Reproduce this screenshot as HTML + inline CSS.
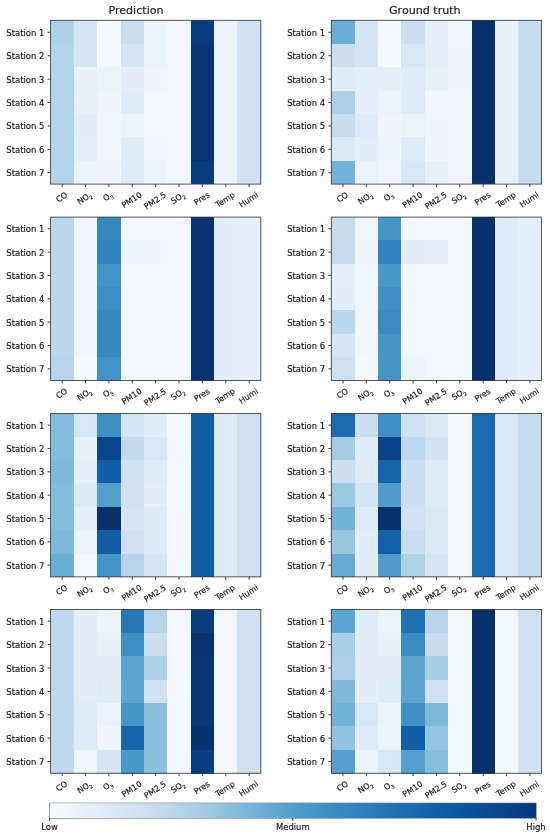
<!DOCTYPE html>
<html><head><meta charset="utf-8"><title>Prediction vs Ground truth</title>
<style>html,body{margin:0;padding:0;background:#fff}svg{display:block}</style></head>
<body>
<svg width="550" height="836" viewBox="0 0 550 836" font-family="'DejaVu Sans', 'Liberation Sans', sans-serif" fill="#141414" stroke="#141414" stroke-width="0.15" paint-order="stroke">
<rect width="550" height="836" fill="#fff" stroke="none"/>
<text x="136.0" y="13.6" font-size="11.10" text-anchor="middle">Prediction</text>
<text x="424.8" y="13.6" font-size="11.10" text-anchor="middle">Ground truth</text>
<g shape-rendering="crispEdges" stroke="none">
<rect x="50.50" y="20.30" width="23.67" height="23.70" fill="#add0e6"/>
<rect x="73.87" y="20.30" width="23.67" height="23.70" fill="#d6e5f4"/>
<rect x="97.23" y="20.30" width="23.67" height="23.70" fill="#f3f8fe"/>
<rect x="120.60" y="20.30" width="23.67" height="23.70" fill="#ccdff1"/>
<rect x="143.97" y="20.30" width="23.67" height="23.70" fill="#ebf3fb"/>
<rect x="167.33" y="20.30" width="23.67" height="23.70" fill="#f2f7fd"/>
<rect x="190.70" y="20.30" width="23.67" height="23.70" fill="#083b7c"/>
<rect x="214.07" y="20.30" width="23.67" height="23.70" fill="#ebf3fb"/>
<rect x="237.43" y="20.30" width="23.67" height="23.70" fill="#d0e1f2"/>
<rect x="50.50" y="43.70" width="23.67" height="23.70" fill="#b3d3e8"/>
<rect x="73.87" y="43.70" width="23.67" height="23.70" fill="#d6e5f4"/>
<rect x="97.23" y="43.70" width="23.67" height="23.70" fill="#f3f8fe"/>
<rect x="120.60" y="43.70" width="23.67" height="23.70" fill="#d6e5f4"/>
<rect x="143.97" y="43.70" width="23.67" height="23.70" fill="#ebf3fb"/>
<rect x="167.33" y="43.70" width="23.67" height="23.70" fill="#f2f7fd"/>
<rect x="190.70" y="43.70" width="23.67" height="23.70" fill="#083674"/>
<rect x="214.07" y="43.70" width="23.67" height="23.70" fill="#ebf3fb"/>
<rect x="237.43" y="43.70" width="23.67" height="23.70" fill="#d0e1f2"/>
<rect x="50.50" y="67.10" width="23.67" height="23.70" fill="#b3d3e8"/>
<rect x="73.87" y="67.10" width="23.67" height="23.70" fill="#e7f1fa"/>
<rect x="97.23" y="67.10" width="23.67" height="23.70" fill="#ebf3fb"/>
<rect x="120.60" y="67.10" width="23.67" height="23.70" fill="#e3eef9"/>
<rect x="143.97" y="67.10" width="23.67" height="23.70" fill="#eef5fc"/>
<rect x="167.33" y="67.10" width="23.67" height="23.70" fill="#f2f7fd"/>
<rect x="190.70" y="67.10" width="23.67" height="23.70" fill="#083573"/>
<rect x="214.07" y="67.10" width="23.67" height="23.70" fill="#ebf3fb"/>
<rect x="237.43" y="67.10" width="23.67" height="23.70" fill="#d0e1f2"/>
<rect x="50.50" y="90.50" width="23.67" height="23.70" fill="#b3d3e8"/>
<rect x="73.87" y="90.50" width="23.67" height="23.70" fill="#e7f1fa"/>
<rect x="97.23" y="90.50" width="23.67" height="23.70" fill="#eef5fc"/>
<rect x="120.60" y="90.50" width="23.67" height="23.70" fill="#dfecf7"/>
<rect x="143.97" y="90.50" width="23.67" height="23.70" fill="#f2f7fd"/>
<rect x="167.33" y="90.50" width="23.67" height="23.70" fill="#f2f7fd"/>
<rect x="190.70" y="90.50" width="23.67" height="23.70" fill="#083573"/>
<rect x="214.07" y="90.50" width="23.67" height="23.70" fill="#ebf3fb"/>
<rect x="237.43" y="90.50" width="23.67" height="23.70" fill="#d0e1f2"/>
<rect x="50.50" y="113.90" width="23.67" height="23.70" fill="#b3d3e8"/>
<rect x="73.87" y="113.90" width="23.67" height="23.70" fill="#e3eef9"/>
<rect x="97.23" y="113.90" width="23.67" height="23.70" fill="#eff6fc"/>
<rect x="120.60" y="113.90" width="23.67" height="23.70" fill="#ebf3fb"/>
<rect x="143.97" y="113.90" width="23.67" height="23.70" fill="#f2f7fd"/>
<rect x="167.33" y="113.90" width="23.67" height="23.70" fill="#f2f7fd"/>
<rect x="190.70" y="113.90" width="23.67" height="23.70" fill="#083573"/>
<rect x="214.07" y="113.90" width="23.67" height="23.70" fill="#ebf3fb"/>
<rect x="237.43" y="113.90" width="23.67" height="23.70" fill="#d0e1f2"/>
<rect x="50.50" y="137.30" width="23.67" height="23.70" fill="#b3d3e8"/>
<rect x="73.87" y="137.30" width="23.67" height="23.70" fill="#e5eff9"/>
<rect x="97.23" y="137.30" width="23.67" height="23.70" fill="#eff6fc"/>
<rect x="120.60" y="137.30" width="23.67" height="23.70" fill="#e1edf8"/>
<rect x="143.97" y="137.30" width="23.67" height="23.70" fill="#eff6fc"/>
<rect x="167.33" y="137.30" width="23.67" height="23.70" fill="#f2f7fd"/>
<rect x="190.70" y="137.30" width="23.67" height="23.70" fill="#083573"/>
<rect x="214.07" y="137.30" width="23.67" height="23.70" fill="#ebf3fb"/>
<rect x="237.43" y="137.30" width="23.67" height="23.70" fill="#d0e1f2"/>
<rect x="50.50" y="160.70" width="23.67" height="23.70" fill="#b3d3e8"/>
<rect x="73.87" y="160.70" width="23.67" height="23.70" fill="#ebf3fb"/>
<rect x="97.23" y="160.70" width="23.67" height="23.70" fill="#eef5fc"/>
<rect x="120.60" y="160.70" width="23.67" height="23.70" fill="#dfecf7"/>
<rect x="143.97" y="160.70" width="23.67" height="23.70" fill="#ebf3fb"/>
<rect x="167.33" y="160.70" width="23.67" height="23.70" fill="#f2f7fd"/>
<rect x="190.70" y="160.70" width="23.67" height="23.70" fill="#083c7d"/>
<rect x="214.07" y="160.70" width="23.67" height="23.70" fill="#ebf3fb"/>
<rect x="237.43" y="160.70" width="23.67" height="23.70" fill="#d0e1f2"/>
</g>
<rect x="50.50" y="20.30" width="210.30" height="163.80" fill="none" stroke="#363b41" stroke-width="0.85"/>
<path d="M50.50 32.30h-2.9M50.50 55.70h-2.9M50.50 79.10h-2.9M50.50 102.50h-2.9M50.50 125.90h-2.9M50.50 149.30h-2.9M50.50 172.70h-2.9M62.18 184.10v2.9M85.55 184.10v2.9M108.92 184.10v2.9M132.28 184.10v2.9M155.65 184.10v2.9M179.02 184.10v2.9M202.38 184.10v2.9M225.75 184.10v2.9M249.12 184.10v2.9" stroke="#24282c" stroke-width="0.9" fill="none"/>
<text x="44.40" y="35.75" font-size="8.45" text-anchor="end">Station 1</text>
<text x="44.40" y="59.15" font-size="8.45" text-anchor="end">Station 2</text>
<text x="44.40" y="82.55" font-size="8.45" text-anchor="end">Station 3</text>
<text x="44.40" y="105.95" font-size="8.45" text-anchor="end">Station 4</text>
<text x="44.40" y="129.35" font-size="8.45" text-anchor="end">Station 5</text>
<text x="44.40" y="152.75" font-size="8.45" text-anchor="end">Station 6</text>
<text x="44.40" y="176.15" font-size="8.45" text-anchor="end">Station 7</text>
<text transform="translate(61.58 197.08) rotate(-33)" x="-5.94" y="2.80" font-size="8.00">CO</text>
<text transform="translate(84.95 198.96) rotate(-33)" x="-7.77" y="1.75" font-size="8.00">NO<tspan font-size="5.12" dy="2.1">2</tspan></text>
<text transform="translate(108.32 197.33) rotate(-33)" x="-4.78" y="1.75" font-size="8.00">O<tspan font-size="5.12" dy="2.1">3</tspan></text>
<text transform="translate(131.68 199.81) rotate(-33)" x="-10.95" y="2.80" font-size="8.00">PM10</text>
<text transform="translate(155.05 200.51) rotate(-33)" x="-12.22" y="2.80" font-size="8.00">PM2.5</text>
<text transform="translate(178.42 198.71) rotate(-33)" x="-7.32" y="1.75" font-size="8.00">SO<tspan font-size="5.12" dy="2.1">2</tspan></text>
<text transform="translate(201.78 198.45) rotate(-33)" x="-8.44" y="2.80" font-size="8.00">Pres</text>
<text transform="translate(225.15 199.65) rotate(-33)" x="-10.66" y="2.80" font-size="8.00">Temp</text>
<text transform="translate(248.52 199.59) rotate(-33)" x="-10.55" y="2.80" font-size="8.00">Humi</text>
<g shape-rendering="crispEdges" stroke="none">
<rect x="331.30" y="20.30" width="23.67" height="23.70" fill="#6aaed6"/>
<rect x="354.67" y="20.30" width="23.67" height="23.70" fill="#d6e5f4"/>
<rect x="378.03" y="20.30" width="23.67" height="23.70" fill="#f5fafe"/>
<rect x="401.40" y="20.30" width="23.67" height="23.70" fill="#ccdff1"/>
<rect x="424.77" y="20.30" width="23.67" height="23.70" fill="#e5eff9"/>
<rect x="448.13" y="20.30" width="23.67" height="23.70" fill="#eff6fc"/>
<rect x="471.50" y="20.30" width="23.67" height="23.70" fill="#08306b"/>
<rect x="494.87" y="20.30" width="23.67" height="23.70" fill="#e7f1fa"/>
<rect x="518.23" y="20.30" width="23.67" height="23.70" fill="#c8dcf0"/>
<rect x="331.30" y="43.70" width="23.67" height="23.70" fill="#ccdff1"/>
<rect x="354.67" y="43.70" width="23.67" height="23.70" fill="#d3e4f3"/>
<rect x="378.03" y="43.70" width="23.67" height="23.70" fill="#f5fafe"/>
<rect x="401.40" y="43.70" width="23.67" height="23.70" fill="#d8e7f5"/>
<rect x="424.77" y="43.70" width="23.67" height="23.70" fill="#e5eff9"/>
<rect x="448.13" y="43.70" width="23.67" height="23.70" fill="#eef5fc"/>
<rect x="471.50" y="43.70" width="23.67" height="23.70" fill="#08306b"/>
<rect x="494.87" y="43.70" width="23.67" height="23.70" fill="#e7f1fa"/>
<rect x="518.23" y="43.70" width="23.67" height="23.70" fill="#c8dcf0"/>
<rect x="331.30" y="67.10" width="23.67" height="23.70" fill="#e1edf8"/>
<rect x="354.67" y="67.10" width="23.67" height="23.70" fill="#e5eff9"/>
<rect x="378.03" y="67.10" width="23.67" height="23.70" fill="#e5eff9"/>
<rect x="401.40" y="67.10" width="23.67" height="23.70" fill="#dfecf7"/>
<rect x="424.77" y="67.10" width="23.67" height="23.70" fill="#e7f1fa"/>
<rect x="448.13" y="67.10" width="23.67" height="23.70" fill="#eef5fc"/>
<rect x="471.50" y="67.10" width="23.67" height="23.70" fill="#08306b"/>
<rect x="494.87" y="67.10" width="23.67" height="23.70" fill="#e7f1fa"/>
<rect x="518.23" y="67.10" width="23.67" height="23.70" fill="#c8dcf0"/>
<rect x="331.30" y="90.50" width="23.67" height="23.70" fill="#add0e6"/>
<rect x="354.67" y="90.50" width="23.67" height="23.70" fill="#e5eff9"/>
<rect x="378.03" y="90.50" width="23.67" height="23.70" fill="#ebf3fb"/>
<rect x="401.40" y="90.50" width="23.67" height="23.70" fill="#dfecf7"/>
<rect x="424.77" y="90.50" width="23.67" height="23.70" fill="#eff6fc"/>
<rect x="448.13" y="90.50" width="23.67" height="23.70" fill="#eff6fc"/>
<rect x="471.50" y="90.50" width="23.67" height="23.70" fill="#08306b"/>
<rect x="494.87" y="90.50" width="23.67" height="23.70" fill="#e7f1fa"/>
<rect x="518.23" y="90.50" width="23.67" height="23.70" fill="#c8dcf0"/>
<rect x="331.30" y="113.90" width="23.67" height="23.70" fill="#c8dcf0"/>
<rect x="354.67" y="113.90" width="23.67" height="23.70" fill="#ddeaf7"/>
<rect x="378.03" y="113.90" width="23.67" height="23.70" fill="#eef5fc"/>
<rect x="401.40" y="113.90" width="23.67" height="23.70" fill="#eaf2fb"/>
<rect x="424.77" y="113.90" width="23.67" height="23.70" fill="#eef5fc"/>
<rect x="448.13" y="113.90" width="23.67" height="23.70" fill="#eff6fc"/>
<rect x="471.50" y="113.90" width="23.67" height="23.70" fill="#08306b"/>
<rect x="494.87" y="113.90" width="23.67" height="23.70" fill="#e7f1fa"/>
<rect x="518.23" y="113.90" width="23.67" height="23.70" fill="#c8dcf0"/>
<rect x="331.30" y="137.30" width="23.67" height="23.70" fill="#d9e8f5"/>
<rect x="354.67" y="137.30" width="23.67" height="23.70" fill="#e3eef9"/>
<rect x="378.03" y="137.30" width="23.67" height="23.70" fill="#ebf3fb"/>
<rect x="401.40" y="137.30" width="23.67" height="23.70" fill="#ddeaf7"/>
<rect x="424.77" y="137.30" width="23.67" height="23.70" fill="#eef5fc"/>
<rect x="448.13" y="137.30" width="23.67" height="23.70" fill="#eff6fc"/>
<rect x="471.50" y="137.30" width="23.67" height="23.70" fill="#08306b"/>
<rect x="494.87" y="137.30" width="23.67" height="23.70" fill="#e7f1fa"/>
<rect x="518.23" y="137.30" width="23.67" height="23.70" fill="#c8dcf0"/>
<rect x="331.30" y="160.70" width="23.67" height="23.70" fill="#74b3d8"/>
<rect x="354.67" y="160.70" width="23.67" height="23.70" fill="#eaf2fb"/>
<rect x="378.03" y="160.70" width="23.67" height="23.70" fill="#eff6fc"/>
<rect x="401.40" y="160.70" width="23.67" height="23.70" fill="#d8e7f5"/>
<rect x="424.77" y="160.70" width="23.67" height="23.70" fill="#e7f1fa"/>
<rect x="448.13" y="160.70" width="23.67" height="23.70" fill="#eff6fc"/>
<rect x="471.50" y="160.70" width="23.67" height="23.70" fill="#08306b"/>
<rect x="494.87" y="160.70" width="23.67" height="23.70" fill="#e7f1fa"/>
<rect x="518.23" y="160.70" width="23.67" height="23.70" fill="#c8dcf0"/>
</g>
<rect x="331.30" y="20.30" width="210.30" height="163.80" fill="none" stroke="#363b41" stroke-width="0.85"/>
<path d="M331.30 32.30h-2.9M331.30 55.70h-2.9M331.30 79.10h-2.9M331.30 102.50h-2.9M331.30 125.90h-2.9M331.30 149.30h-2.9M331.30 172.70h-2.9M342.98 184.10v2.9M366.35 184.10v2.9M389.72 184.10v2.9M413.08 184.10v2.9M436.45 184.10v2.9M459.82 184.10v2.9M483.18 184.10v2.9M506.55 184.10v2.9M529.92 184.10v2.9" stroke="#24282c" stroke-width="0.9" fill="none"/>
<text x="325.20" y="35.75" font-size="8.45" text-anchor="end">Station 1</text>
<text x="325.20" y="59.15" font-size="8.45" text-anchor="end">Station 2</text>
<text x="325.20" y="82.55" font-size="8.45" text-anchor="end">Station 3</text>
<text x="325.20" y="105.95" font-size="8.45" text-anchor="end">Station 4</text>
<text x="325.20" y="129.35" font-size="8.45" text-anchor="end">Station 5</text>
<text x="325.20" y="152.75" font-size="8.45" text-anchor="end">Station 6</text>
<text x="325.20" y="176.15" font-size="8.45" text-anchor="end">Station 7</text>
<text transform="translate(342.38 197.08) rotate(-33)" x="-5.94" y="2.80" font-size="8.00">CO</text>
<text transform="translate(365.75 198.96) rotate(-33)" x="-7.77" y="1.75" font-size="8.00">NO<tspan font-size="5.12" dy="2.1">2</tspan></text>
<text transform="translate(389.12 197.33) rotate(-33)" x="-4.78" y="1.75" font-size="8.00">O<tspan font-size="5.12" dy="2.1">3</tspan></text>
<text transform="translate(412.48 199.81) rotate(-33)" x="-10.95" y="2.80" font-size="8.00">PM10</text>
<text transform="translate(435.85 200.51) rotate(-33)" x="-12.22" y="2.80" font-size="8.00">PM2.5</text>
<text transform="translate(459.22 198.71) rotate(-33)" x="-7.32" y="1.75" font-size="8.00">SO<tspan font-size="5.12" dy="2.1">2</tspan></text>
<text transform="translate(482.58 198.45) rotate(-33)" x="-8.44" y="2.80" font-size="8.00">Pres</text>
<text transform="translate(505.95 199.65) rotate(-33)" x="-10.66" y="2.80" font-size="8.00">Temp</text>
<text transform="translate(529.32 199.59) rotate(-33)" x="-10.55" y="2.80" font-size="8.00">Humi</text>
<g shape-rendering="crispEdges" stroke="none">
<rect x="50.50" y="217.10" width="23.67" height="23.64" fill="#bdd7ec"/>
<rect x="73.87" y="217.10" width="23.67" height="23.64" fill="#eff6fc"/>
<rect x="97.23" y="217.10" width="23.67" height="23.64" fill="#3989c1"/>
<rect x="120.60" y="217.10" width="23.67" height="23.64" fill="#f2f7fd"/>
<rect x="143.97" y="217.10" width="23.67" height="23.64" fill="#f2f7fd"/>
<rect x="167.33" y="217.10" width="23.67" height="23.64" fill="#f2f7fd"/>
<rect x="190.70" y="217.10" width="23.67" height="23.64" fill="#083370"/>
<rect x="214.07" y="217.10" width="23.67" height="23.64" fill="#e3eef9"/>
<rect x="237.43" y="217.10" width="23.67" height="23.64" fill="#e5eff9"/>
<rect x="50.50" y="240.44" width="23.67" height="23.64" fill="#bdd7ec"/>
<rect x="73.87" y="240.44" width="23.67" height="23.64" fill="#eff6fc"/>
<rect x="97.23" y="240.44" width="23.67" height="23.64" fill="#3383be"/>
<rect x="120.60" y="240.44" width="23.67" height="23.64" fill="#ecf4fb"/>
<rect x="143.97" y="240.44" width="23.67" height="23.64" fill="#eef5fc"/>
<rect x="167.33" y="240.44" width="23.67" height="23.64" fill="#f2f7fd"/>
<rect x="190.70" y="240.44" width="23.67" height="23.64" fill="#083370"/>
<rect x="214.07" y="240.44" width="23.67" height="23.64" fill="#e3eef9"/>
<rect x="237.43" y="240.44" width="23.67" height="23.64" fill="#e5eff9"/>
<rect x="50.50" y="263.79" width="23.67" height="23.64" fill="#bdd7ec"/>
<rect x="73.87" y="263.79" width="23.67" height="23.64" fill="#eff6fc"/>
<rect x="97.23" y="263.79" width="23.67" height="23.64" fill="#4493c7"/>
<rect x="120.60" y="263.79" width="23.67" height="23.64" fill="#f2f7fd"/>
<rect x="143.97" y="263.79" width="23.67" height="23.64" fill="#f2f7fd"/>
<rect x="167.33" y="263.79" width="23.67" height="23.64" fill="#f2f7fd"/>
<rect x="190.70" y="263.79" width="23.67" height="23.64" fill="#083370"/>
<rect x="214.07" y="263.79" width="23.67" height="23.64" fill="#e3eef9"/>
<rect x="237.43" y="263.79" width="23.67" height="23.64" fill="#e5eff9"/>
<rect x="50.50" y="287.13" width="23.67" height="23.64" fill="#bdd7ec"/>
<rect x="73.87" y="287.13" width="23.67" height="23.64" fill="#eff6fc"/>
<rect x="97.23" y="287.13" width="23.67" height="23.64" fill="#3e8ec4"/>
<rect x="120.60" y="287.13" width="23.67" height="23.64" fill="#f2f7fd"/>
<rect x="143.97" y="287.13" width="23.67" height="23.64" fill="#f2f7fd"/>
<rect x="167.33" y="287.13" width="23.67" height="23.64" fill="#f2f7fd"/>
<rect x="190.70" y="287.13" width="23.67" height="23.64" fill="#083370"/>
<rect x="214.07" y="287.13" width="23.67" height="23.64" fill="#e3eef9"/>
<rect x="237.43" y="287.13" width="23.67" height="23.64" fill="#e5eff9"/>
<rect x="50.50" y="310.47" width="23.67" height="23.64" fill="#bdd7ec"/>
<rect x="73.87" y="310.47" width="23.67" height="23.64" fill="#eff6fc"/>
<rect x="97.23" y="310.47" width="23.67" height="23.64" fill="#3989c1"/>
<rect x="120.60" y="310.47" width="23.67" height="23.64" fill="#f2f7fd"/>
<rect x="143.97" y="310.47" width="23.67" height="23.64" fill="#f2f7fd"/>
<rect x="167.33" y="310.47" width="23.67" height="23.64" fill="#f2f7fd"/>
<rect x="190.70" y="310.47" width="23.67" height="23.64" fill="#083370"/>
<rect x="214.07" y="310.47" width="23.67" height="23.64" fill="#e3eef9"/>
<rect x="237.43" y="310.47" width="23.67" height="23.64" fill="#e5eff9"/>
<rect x="50.50" y="333.81" width="23.67" height="23.64" fill="#bdd7ec"/>
<rect x="73.87" y="333.81" width="23.67" height="23.64" fill="#eff6fc"/>
<rect x="97.23" y="333.81" width="23.67" height="23.64" fill="#3989c1"/>
<rect x="120.60" y="333.81" width="23.67" height="23.64" fill="#f2f7fd"/>
<rect x="143.97" y="333.81" width="23.67" height="23.64" fill="#f2f7fd"/>
<rect x="167.33" y="333.81" width="23.67" height="23.64" fill="#f2f7fd"/>
<rect x="190.70" y="333.81" width="23.67" height="23.64" fill="#083370"/>
<rect x="214.07" y="333.81" width="23.67" height="23.64" fill="#e3eef9"/>
<rect x="237.43" y="333.81" width="23.67" height="23.64" fill="#e5eff9"/>
<rect x="50.50" y="357.16" width="23.67" height="23.64" fill="#b7d4ea"/>
<rect x="73.87" y="357.16" width="23.67" height="23.64" fill="#f5fafe"/>
<rect x="97.23" y="357.16" width="23.67" height="23.64" fill="#4493c7"/>
<rect x="120.60" y="357.16" width="23.67" height="23.64" fill="#f2f7fd"/>
<rect x="143.97" y="357.16" width="23.67" height="23.64" fill="#f2f7fd"/>
<rect x="167.33" y="357.16" width="23.67" height="23.64" fill="#f2f7fd"/>
<rect x="190.70" y="357.16" width="23.67" height="23.64" fill="#083370"/>
<rect x="214.07" y="357.16" width="23.67" height="23.64" fill="#e3eef9"/>
<rect x="237.43" y="357.16" width="23.67" height="23.64" fill="#e5eff9"/>
</g>
<rect x="50.50" y="217.10" width="210.30" height="163.40" fill="none" stroke="#363b41" stroke-width="0.85"/>
<path d="M50.50 228.77h-2.9M50.50 252.11h-2.9M50.50 275.46h-2.9M50.50 298.80h-2.9M50.50 322.14h-2.9M50.50 345.49h-2.9M50.50 368.83h-2.9M62.18 380.50v2.9M85.55 380.50v2.9M108.92 380.50v2.9M132.28 380.50v2.9M155.65 380.50v2.9M179.02 380.50v2.9M202.38 380.50v2.9M225.75 380.50v2.9M249.12 380.50v2.9" stroke="#24282c" stroke-width="0.9" fill="none"/>
<text x="44.40" y="232.37" font-size="8.45" text-anchor="end">Station 1</text>
<text x="44.40" y="255.71" font-size="8.45" text-anchor="end">Station 2</text>
<text x="44.40" y="279.06" font-size="8.45" text-anchor="end">Station 3</text>
<text x="44.40" y="302.40" font-size="8.45" text-anchor="end">Station 4</text>
<text x="44.40" y="325.74" font-size="8.45" text-anchor="end">Station 5</text>
<text x="44.40" y="349.09" font-size="8.45" text-anchor="end">Station 6</text>
<text x="44.40" y="372.43" font-size="8.45" text-anchor="end">Station 7</text>
<text transform="translate(61.58 393.48) rotate(-33)" x="-5.94" y="2.80" font-size="8.00">CO</text>
<text transform="translate(84.95 395.36) rotate(-33)" x="-7.77" y="1.75" font-size="8.00">NO<tspan font-size="5.12" dy="2.1">2</tspan></text>
<text transform="translate(108.32 393.73) rotate(-33)" x="-4.78" y="1.75" font-size="8.00">O<tspan font-size="5.12" dy="2.1">3</tspan></text>
<text transform="translate(131.68 396.21) rotate(-33)" x="-10.95" y="2.80" font-size="8.00">PM10</text>
<text transform="translate(155.05 396.91) rotate(-33)" x="-12.22" y="2.80" font-size="8.00">PM2.5</text>
<text transform="translate(178.42 395.11) rotate(-33)" x="-7.32" y="1.75" font-size="8.00">SO<tspan font-size="5.12" dy="2.1">2</tspan></text>
<text transform="translate(201.78 394.85) rotate(-33)" x="-8.44" y="2.80" font-size="8.00">Pres</text>
<text transform="translate(225.15 396.05) rotate(-33)" x="-10.66" y="2.80" font-size="8.00">Temp</text>
<text transform="translate(248.52 395.99) rotate(-33)" x="-10.55" y="2.80" font-size="8.00">Humi</text>
<g shape-rendering="crispEdges" stroke="none">
<rect x="331.30" y="217.10" width="23.67" height="23.64" fill="#c8dcf0"/>
<rect x="354.67" y="217.10" width="23.67" height="23.64" fill="#eff6fc"/>
<rect x="378.03" y="217.10" width="23.67" height="23.64" fill="#4695c8"/>
<rect x="401.40" y="217.10" width="23.67" height="23.64" fill="#f2f7fd"/>
<rect x="424.77" y="217.10" width="23.67" height="23.64" fill="#f2f7fd"/>
<rect x="448.13" y="217.10" width="23.67" height="23.64" fill="#f2f8fd"/>
<rect x="471.50" y="217.10" width="23.67" height="23.64" fill="#08306b"/>
<rect x="494.87" y="217.10" width="23.67" height="23.64" fill="#dfecf7"/>
<rect x="518.23" y="217.10" width="23.67" height="23.64" fill="#e5eff9"/>
<rect x="331.30" y="240.44" width="23.67" height="23.64" fill="#c6dbef"/>
<rect x="354.67" y="240.44" width="23.67" height="23.64" fill="#eef5fc"/>
<rect x="378.03" y="240.44" width="23.67" height="23.64" fill="#3383be"/>
<rect x="401.40" y="240.44" width="23.67" height="23.64" fill="#e3eef9"/>
<rect x="424.77" y="240.44" width="23.67" height="23.64" fill="#e5eff9"/>
<rect x="448.13" y="240.44" width="23.67" height="23.64" fill="#f2f8fd"/>
<rect x="471.50" y="240.44" width="23.67" height="23.64" fill="#08306b"/>
<rect x="494.87" y="240.44" width="23.67" height="23.64" fill="#dfecf7"/>
<rect x="518.23" y="240.44" width="23.67" height="23.64" fill="#e5eff9"/>
<rect x="331.30" y="263.79" width="23.67" height="23.64" fill="#e5eff9"/>
<rect x="354.67" y="263.79" width="23.67" height="23.64" fill="#eff6fc"/>
<rect x="378.03" y="263.79" width="23.67" height="23.64" fill="#4a98c9"/>
<rect x="401.40" y="263.79" width="23.67" height="23.64" fill="#f2f7fd"/>
<rect x="424.77" y="263.79" width="23.67" height="23.64" fill="#f2f7fd"/>
<rect x="448.13" y="263.79" width="23.67" height="23.64" fill="#f2f8fd"/>
<rect x="471.50" y="263.79" width="23.67" height="23.64" fill="#08306b"/>
<rect x="494.87" y="263.79" width="23.67" height="23.64" fill="#dfecf7"/>
<rect x="518.23" y="263.79" width="23.67" height="23.64" fill="#e5eff9"/>
<rect x="331.30" y="287.13" width="23.67" height="23.64" fill="#e3eef9"/>
<rect x="354.67" y="287.13" width="23.67" height="23.64" fill="#eff6fc"/>
<rect x="378.03" y="287.13" width="23.67" height="23.64" fill="#4090c5"/>
<rect x="401.40" y="287.13" width="23.67" height="23.64" fill="#f2f7fd"/>
<rect x="424.77" y="287.13" width="23.67" height="23.64" fill="#f2f7fd"/>
<rect x="448.13" y="287.13" width="23.67" height="23.64" fill="#f2f8fd"/>
<rect x="471.50" y="287.13" width="23.67" height="23.64" fill="#08306b"/>
<rect x="494.87" y="287.13" width="23.67" height="23.64" fill="#dfecf7"/>
<rect x="518.23" y="287.13" width="23.67" height="23.64" fill="#e5eff9"/>
<rect x="331.30" y="310.47" width="23.67" height="23.64" fill="#bdd7ec"/>
<rect x="354.67" y="310.47" width="23.67" height="23.64" fill="#eff6fc"/>
<rect x="378.03" y="310.47" width="23.67" height="23.64" fill="#3b8bc2"/>
<rect x="401.40" y="310.47" width="23.67" height="23.64" fill="#f2f7fd"/>
<rect x="424.77" y="310.47" width="23.67" height="23.64" fill="#f2f7fd"/>
<rect x="448.13" y="310.47" width="23.67" height="23.64" fill="#f2f8fd"/>
<rect x="471.50" y="310.47" width="23.67" height="23.64" fill="#08306b"/>
<rect x="494.87" y="310.47" width="23.67" height="23.64" fill="#dfecf7"/>
<rect x="518.23" y="310.47" width="23.67" height="23.64" fill="#e5eff9"/>
<rect x="331.30" y="333.81" width="23.67" height="23.64" fill="#d6e5f4"/>
<rect x="354.67" y="333.81" width="23.67" height="23.64" fill="#eff6fc"/>
<rect x="378.03" y="333.81" width="23.67" height="23.64" fill="#4695c8"/>
<rect x="401.40" y="333.81" width="23.67" height="23.64" fill="#f2f7fd"/>
<rect x="424.77" y="333.81" width="23.67" height="23.64" fill="#f2f7fd"/>
<rect x="448.13" y="333.81" width="23.67" height="23.64" fill="#f2f8fd"/>
<rect x="471.50" y="333.81" width="23.67" height="23.64" fill="#08306b"/>
<rect x="494.87" y="333.81" width="23.67" height="23.64" fill="#dfecf7"/>
<rect x="518.23" y="333.81" width="23.67" height="23.64" fill="#e5eff9"/>
<rect x="331.30" y="357.16" width="23.67" height="23.64" fill="#cee0f2"/>
<rect x="354.67" y="357.16" width="23.67" height="23.64" fill="#f6faff"/>
<rect x="378.03" y="357.16" width="23.67" height="23.64" fill="#4695c8"/>
<rect x="401.40" y="357.16" width="23.67" height="23.64" fill="#ebf3fb"/>
<rect x="424.77" y="357.16" width="23.67" height="23.64" fill="#f2f7fd"/>
<rect x="448.13" y="357.16" width="23.67" height="23.64" fill="#f2f8fd"/>
<rect x="471.50" y="357.16" width="23.67" height="23.64" fill="#08306b"/>
<rect x="494.87" y="357.16" width="23.67" height="23.64" fill="#dfecf7"/>
<rect x="518.23" y="357.16" width="23.67" height="23.64" fill="#e5eff9"/>
</g>
<rect x="331.30" y="217.10" width="210.30" height="163.40" fill="none" stroke="#363b41" stroke-width="0.85"/>
<path d="M331.30 228.77h-2.9M331.30 252.11h-2.9M331.30 275.46h-2.9M331.30 298.80h-2.9M331.30 322.14h-2.9M331.30 345.49h-2.9M331.30 368.83h-2.9M342.98 380.50v2.9M366.35 380.50v2.9M389.72 380.50v2.9M413.08 380.50v2.9M436.45 380.50v2.9M459.82 380.50v2.9M483.18 380.50v2.9M506.55 380.50v2.9M529.92 380.50v2.9" stroke="#24282c" stroke-width="0.9" fill="none"/>
<text x="325.20" y="232.37" font-size="8.45" text-anchor="end">Station 1</text>
<text x="325.20" y="255.71" font-size="8.45" text-anchor="end">Station 2</text>
<text x="325.20" y="279.06" font-size="8.45" text-anchor="end">Station 3</text>
<text x="325.20" y="302.40" font-size="8.45" text-anchor="end">Station 4</text>
<text x="325.20" y="325.74" font-size="8.45" text-anchor="end">Station 5</text>
<text x="325.20" y="349.09" font-size="8.45" text-anchor="end">Station 6</text>
<text x="325.20" y="372.43" font-size="8.45" text-anchor="end">Station 7</text>
<text transform="translate(342.38 393.48) rotate(-33)" x="-5.94" y="2.80" font-size="8.00">CO</text>
<text transform="translate(365.75 395.36) rotate(-33)" x="-7.77" y="1.75" font-size="8.00">NO<tspan font-size="5.12" dy="2.1">2</tspan></text>
<text transform="translate(389.12 393.73) rotate(-33)" x="-4.78" y="1.75" font-size="8.00">O<tspan font-size="5.12" dy="2.1">3</tspan></text>
<text transform="translate(412.48 396.21) rotate(-33)" x="-10.95" y="2.80" font-size="8.00">PM10</text>
<text transform="translate(435.85 396.91) rotate(-33)" x="-12.22" y="2.80" font-size="8.00">PM2.5</text>
<text transform="translate(459.22 395.11) rotate(-33)" x="-7.32" y="1.75" font-size="8.00">SO<tspan font-size="5.12" dy="2.1">2</tspan></text>
<text transform="translate(482.58 394.85) rotate(-33)" x="-8.44" y="2.80" font-size="8.00">Pres</text>
<text transform="translate(505.95 396.05) rotate(-33)" x="-10.66" y="2.80" font-size="8.00">Temp</text>
<text transform="translate(529.32 395.99) rotate(-33)" x="-10.55" y="2.80" font-size="8.00">Humi</text>
<g shape-rendering="crispEdges" stroke="none">
<rect x="50.50" y="413.45" width="23.67" height="23.64" fill="#84bcdb"/>
<rect x="73.87" y="413.45" width="23.67" height="23.64" fill="#d8e7f5"/>
<rect x="97.23" y="413.45" width="23.67" height="23.64" fill="#3e8ec4"/>
<rect x="120.60" y="413.45" width="23.67" height="23.64" fill="#d3e4f3"/>
<rect x="143.97" y="413.45" width="23.67" height="23.64" fill="#e1edf8"/>
<rect x="167.33" y="413.45" width="23.67" height="23.64" fill="#f3f8fe"/>
<rect x="190.70" y="413.45" width="23.67" height="23.64" fill="#135fa7"/>
<rect x="214.07" y="413.45" width="23.67" height="23.64" fill="#ddeaf7"/>
<rect x="237.43" y="413.45" width="23.67" height="23.64" fill="#d0e1f2"/>
<rect x="50.50" y="436.79" width="23.67" height="23.64" fill="#84bcdb"/>
<rect x="73.87" y="436.79" width="23.67" height="23.64" fill="#e7f1fa"/>
<rect x="97.23" y="436.79" width="23.67" height="23.64" fill="#08458a"/>
<rect x="120.60" y="436.79" width="23.67" height="23.64" fill="#c3daee"/>
<rect x="143.97" y="436.79" width="23.67" height="23.64" fill="#d8e7f5"/>
<rect x="167.33" y="436.79" width="23.67" height="23.64" fill="#f3f8fe"/>
<rect x="190.70" y="436.79" width="23.67" height="23.64" fill="#135fa7"/>
<rect x="214.07" y="436.79" width="23.67" height="23.64" fill="#ddeaf7"/>
<rect x="237.43" y="436.79" width="23.67" height="23.64" fill="#d0e1f2"/>
<rect x="50.50" y="460.14" width="23.67" height="23.64" fill="#7fb9da"/>
<rect x="73.87" y="460.14" width="23.67" height="23.64" fill="#e5eff9"/>
<rect x="97.23" y="460.14" width="23.67" height="23.64" fill="#135fa7"/>
<rect x="120.60" y="460.14" width="23.67" height="23.64" fill="#d0e1f2"/>
<rect x="143.97" y="460.14" width="23.67" height="23.64" fill="#dfecf7"/>
<rect x="167.33" y="460.14" width="23.67" height="23.64" fill="#f3f8fe"/>
<rect x="190.70" y="460.14" width="23.67" height="23.64" fill="#135fa7"/>
<rect x="214.07" y="460.14" width="23.67" height="23.64" fill="#ddeaf7"/>
<rect x="237.43" y="460.14" width="23.67" height="23.64" fill="#d0e1f2"/>
<rect x="50.50" y="483.48" width="23.67" height="23.64" fill="#84bcdb"/>
<rect x="73.87" y="483.48" width="23.67" height="23.64" fill="#dce9f6"/>
<rect x="97.23" y="483.48" width="23.67" height="23.64" fill="#549fcd"/>
<rect x="120.60" y="483.48" width="23.67" height="23.64" fill="#d0e1f2"/>
<rect x="143.97" y="483.48" width="23.67" height="23.64" fill="#e3eef9"/>
<rect x="167.33" y="483.48" width="23.67" height="23.64" fill="#f3f8fe"/>
<rect x="190.70" y="483.48" width="23.67" height="23.64" fill="#135fa7"/>
<rect x="214.07" y="483.48" width="23.67" height="23.64" fill="#ddeaf7"/>
<rect x="237.43" y="483.48" width="23.67" height="23.64" fill="#d0e1f2"/>
<rect x="50.50" y="506.82" width="23.67" height="23.64" fill="#84bcdb"/>
<rect x="73.87" y="506.82" width="23.67" height="23.64" fill="#e5eff9"/>
<rect x="97.23" y="506.82" width="23.67" height="23.64" fill="#08306b"/>
<rect x="120.60" y="506.82" width="23.67" height="23.64" fill="#d6e5f4"/>
<rect x="143.97" y="506.82" width="23.67" height="23.64" fill="#dce9f6"/>
<rect x="167.33" y="506.82" width="23.67" height="23.64" fill="#f3f8fe"/>
<rect x="190.70" y="506.82" width="23.67" height="23.64" fill="#135fa7"/>
<rect x="214.07" y="506.82" width="23.67" height="23.64" fill="#ddeaf7"/>
<rect x="237.43" y="506.82" width="23.67" height="23.64" fill="#d0e1f2"/>
<rect x="50.50" y="530.16" width="23.67" height="23.64" fill="#7fb9da"/>
<rect x="73.87" y="530.16" width="23.67" height="23.64" fill="#ebf3fb"/>
<rect x="97.23" y="530.16" width="23.67" height="23.64" fill="#115ca5"/>
<rect x="120.60" y="530.16" width="23.67" height="23.64" fill="#cee0f2"/>
<rect x="143.97" y="530.16" width="23.67" height="23.64" fill="#dce9f6"/>
<rect x="167.33" y="530.16" width="23.67" height="23.64" fill="#f3f8fe"/>
<rect x="190.70" y="530.16" width="23.67" height="23.64" fill="#135fa7"/>
<rect x="214.07" y="530.16" width="23.67" height="23.64" fill="#ddeaf7"/>
<rect x="237.43" y="530.16" width="23.67" height="23.64" fill="#d0e1f2"/>
<rect x="50.50" y="553.51" width="23.67" height="23.64" fill="#6aaed6"/>
<rect x="73.87" y="553.51" width="23.67" height="23.64" fill="#f3f8fe"/>
<rect x="97.23" y="553.51" width="23.67" height="23.64" fill="#4493c7"/>
<rect x="120.60" y="553.51" width="23.67" height="23.64" fill="#b7d4ea"/>
<rect x="143.97" y="553.51" width="23.67" height="23.64" fill="#d6e5f4"/>
<rect x="167.33" y="553.51" width="23.67" height="23.64" fill="#f3f8fe"/>
<rect x="190.70" y="553.51" width="23.67" height="23.64" fill="#135fa7"/>
<rect x="214.07" y="553.51" width="23.67" height="23.64" fill="#ddeaf7"/>
<rect x="237.43" y="553.51" width="23.67" height="23.64" fill="#d0e1f2"/>
</g>
<rect x="50.50" y="413.45" width="210.30" height="163.40" fill="none" stroke="#363b41" stroke-width="0.85"/>
<path d="M50.50 425.12h-2.9M50.50 448.46h-2.9M50.50 471.81h-2.9M50.50 495.15h-2.9M50.50 518.49h-2.9M50.50 541.84h-2.9M50.50 565.18h-2.9M62.18 576.85v2.9M85.55 576.85v2.9M108.92 576.85v2.9M132.28 576.85v2.9M155.65 576.85v2.9M179.02 576.85v2.9M202.38 576.85v2.9M225.75 576.85v2.9M249.12 576.85v2.9" stroke="#24282c" stroke-width="0.9" fill="none"/>
<text x="44.40" y="428.72" font-size="8.45" text-anchor="end">Station 1</text>
<text x="44.40" y="452.06" font-size="8.45" text-anchor="end">Station 2</text>
<text x="44.40" y="475.41" font-size="8.45" text-anchor="end">Station 3</text>
<text x="44.40" y="498.75" font-size="8.45" text-anchor="end">Station 4</text>
<text x="44.40" y="522.09" font-size="8.45" text-anchor="end">Station 5</text>
<text x="44.40" y="545.44" font-size="8.45" text-anchor="end">Station 6</text>
<text x="44.40" y="568.78" font-size="8.45" text-anchor="end">Station 7</text>
<text transform="translate(61.58 589.83) rotate(-33)" x="-5.94" y="2.80" font-size="8.00">CO</text>
<text transform="translate(84.95 591.71) rotate(-33)" x="-7.77" y="1.75" font-size="8.00">NO<tspan font-size="5.12" dy="2.1">2</tspan></text>
<text transform="translate(108.32 590.08) rotate(-33)" x="-4.78" y="1.75" font-size="8.00">O<tspan font-size="5.12" dy="2.1">3</tspan></text>
<text transform="translate(131.68 592.56) rotate(-33)" x="-10.95" y="2.80" font-size="8.00">PM10</text>
<text transform="translate(155.05 593.26) rotate(-33)" x="-12.22" y="2.80" font-size="8.00">PM2.5</text>
<text transform="translate(178.42 591.46) rotate(-33)" x="-7.32" y="1.75" font-size="8.00">SO<tspan font-size="5.12" dy="2.1">2</tspan></text>
<text transform="translate(201.78 591.20) rotate(-33)" x="-8.44" y="2.80" font-size="8.00">Pres</text>
<text transform="translate(225.15 592.40) rotate(-33)" x="-10.66" y="2.80" font-size="8.00">Temp</text>
<text transform="translate(248.52 592.34) rotate(-33)" x="-10.55" y="2.80" font-size="8.00">Humi</text>
<g shape-rendering="crispEdges" stroke="none">
<rect x="331.30" y="413.45" width="23.67" height="23.64" fill="#1b69af"/>
<rect x="354.67" y="413.45" width="23.67" height="23.64" fill="#ccdff1"/>
<rect x="378.03" y="413.45" width="23.67" height="23.64" fill="#4090c5"/>
<rect x="401.40" y="413.45" width="23.67" height="23.64" fill="#d0e1f2"/>
<rect x="424.77" y="413.45" width="23.67" height="23.64" fill="#d9e8f5"/>
<rect x="448.13" y="413.45" width="23.67" height="23.64" fill="#f3f8fe"/>
<rect x="471.50" y="413.45" width="23.67" height="23.64" fill="#1b69af"/>
<rect x="494.87" y="413.45" width="23.67" height="23.64" fill="#d9e8f5"/>
<rect x="518.23" y="413.45" width="23.67" height="23.64" fill="#c8dcf0"/>
<rect x="331.30" y="436.79" width="23.67" height="23.64" fill="#a3cce3"/>
<rect x="354.67" y="436.79" width="23.67" height="23.64" fill="#dfecf7"/>
<rect x="378.03" y="436.79" width="23.67" height="23.64" fill="#084285"/>
<rect x="401.40" y="436.79" width="23.67" height="23.64" fill="#bfd8ed"/>
<rect x="424.77" y="436.79" width="23.67" height="23.64" fill="#d2e3f3"/>
<rect x="448.13" y="436.79" width="23.67" height="23.64" fill="#f3f8fe"/>
<rect x="471.50" y="436.79" width="23.67" height="23.64" fill="#1b69af"/>
<rect x="494.87" y="436.79" width="23.67" height="23.64" fill="#d9e8f5"/>
<rect x="518.23" y="436.79" width="23.67" height="23.64" fill="#c8dcf0"/>
<rect x="331.30" y="460.14" width="23.67" height="23.64" fill="#ccdff1"/>
<rect x="354.67" y="460.14" width="23.67" height="23.64" fill="#dfecf7"/>
<rect x="378.03" y="460.14" width="23.67" height="23.64" fill="#1764ab"/>
<rect x="401.40" y="460.14" width="23.67" height="23.64" fill="#ccdff1"/>
<rect x="424.77" y="460.14" width="23.67" height="23.64" fill="#ddeaf7"/>
<rect x="448.13" y="460.14" width="23.67" height="23.64" fill="#f3f8fe"/>
<rect x="471.50" y="460.14" width="23.67" height="23.64" fill="#1b69af"/>
<rect x="494.87" y="460.14" width="23.67" height="23.64" fill="#d9e8f5"/>
<rect x="518.23" y="460.14" width="23.67" height="23.64" fill="#c8dcf0"/>
<rect x="331.30" y="483.48" width="23.67" height="23.64" fill="#9cc9e1"/>
<rect x="354.67" y="483.48" width="23.67" height="23.64" fill="#d3e4f3"/>
<rect x="378.03" y="483.48" width="23.67" height="23.64" fill="#519ccc"/>
<rect x="401.40" y="483.48" width="23.67" height="23.64" fill="#ccdff1"/>
<rect x="424.77" y="483.48" width="23.67" height="23.64" fill="#ddeaf7"/>
<rect x="448.13" y="483.48" width="23.67" height="23.64" fill="#f3f8fe"/>
<rect x="471.50" y="483.48" width="23.67" height="23.64" fill="#1b69af"/>
<rect x="494.87" y="483.48" width="23.67" height="23.64" fill="#d9e8f5"/>
<rect x="518.23" y="483.48" width="23.67" height="23.64" fill="#c8dcf0"/>
<rect x="331.30" y="506.82" width="23.67" height="23.64" fill="#74b3d8"/>
<rect x="354.67" y="506.82" width="23.67" height="23.64" fill="#dfecf7"/>
<rect x="378.03" y="506.82" width="23.67" height="23.64" fill="#08306b"/>
<rect x="401.40" y="506.82" width="23.67" height="23.64" fill="#d0e1f2"/>
<rect x="424.77" y="506.82" width="23.67" height="23.64" fill="#d9e8f5"/>
<rect x="448.13" y="506.82" width="23.67" height="23.64" fill="#f3f8fe"/>
<rect x="471.50" y="506.82" width="23.67" height="23.64" fill="#1b69af"/>
<rect x="494.87" y="506.82" width="23.67" height="23.64" fill="#d9e8f5"/>
<rect x="518.23" y="506.82" width="23.67" height="23.64" fill="#c8dcf0"/>
<rect x="331.30" y="530.16" width="23.67" height="23.64" fill="#99c7e0"/>
<rect x="354.67" y="530.16" width="23.67" height="23.64" fill="#e1edf8"/>
<rect x="378.03" y="530.16" width="23.67" height="23.64" fill="#1561a9"/>
<rect x="401.40" y="530.16" width="23.67" height="23.64" fill="#cadef0"/>
<rect x="424.77" y="530.16" width="23.67" height="23.64" fill="#d9e8f5"/>
<rect x="448.13" y="530.16" width="23.67" height="23.64" fill="#f3f8fe"/>
<rect x="471.50" y="530.16" width="23.67" height="23.64" fill="#1b69af"/>
<rect x="494.87" y="530.16" width="23.67" height="23.64" fill="#d9e8f5"/>
<rect x="518.23" y="530.16" width="23.67" height="23.64" fill="#c8dcf0"/>
<rect x="331.30" y="553.51" width="23.67" height="23.64" fill="#68acd5"/>
<rect x="354.67" y="553.51" width="23.67" height="23.64" fill="#e3eef9"/>
<rect x="378.03" y="553.51" width="23.67" height="23.64" fill="#519ccc"/>
<rect x="401.40" y="553.51" width="23.67" height="23.64" fill="#b0d2e7"/>
<rect x="424.77" y="553.51" width="23.67" height="23.64" fill="#d6e5f4"/>
<rect x="448.13" y="553.51" width="23.67" height="23.64" fill="#f3f8fe"/>
<rect x="471.50" y="553.51" width="23.67" height="23.64" fill="#1b69af"/>
<rect x="494.87" y="553.51" width="23.67" height="23.64" fill="#d9e8f5"/>
<rect x="518.23" y="553.51" width="23.67" height="23.64" fill="#c8dcf0"/>
</g>
<rect x="331.30" y="413.45" width="210.30" height="163.40" fill="none" stroke="#363b41" stroke-width="0.85"/>
<path d="M331.30 425.12h-2.9M331.30 448.46h-2.9M331.30 471.81h-2.9M331.30 495.15h-2.9M331.30 518.49h-2.9M331.30 541.84h-2.9M331.30 565.18h-2.9M342.98 576.85v2.9M366.35 576.85v2.9M389.72 576.85v2.9M413.08 576.85v2.9M436.45 576.85v2.9M459.82 576.85v2.9M483.18 576.85v2.9M506.55 576.85v2.9M529.92 576.85v2.9" stroke="#24282c" stroke-width="0.9" fill="none"/>
<text x="325.20" y="428.72" font-size="8.45" text-anchor="end">Station 1</text>
<text x="325.20" y="452.06" font-size="8.45" text-anchor="end">Station 2</text>
<text x="325.20" y="475.41" font-size="8.45" text-anchor="end">Station 3</text>
<text x="325.20" y="498.75" font-size="8.45" text-anchor="end">Station 4</text>
<text x="325.20" y="522.09" font-size="8.45" text-anchor="end">Station 5</text>
<text x="325.20" y="545.44" font-size="8.45" text-anchor="end">Station 6</text>
<text x="325.20" y="568.78" font-size="8.45" text-anchor="end">Station 7</text>
<text transform="translate(342.38 589.83) rotate(-33)" x="-5.94" y="2.80" font-size="8.00">CO</text>
<text transform="translate(365.75 591.71) rotate(-33)" x="-7.77" y="1.75" font-size="8.00">NO<tspan font-size="5.12" dy="2.1">2</tspan></text>
<text transform="translate(389.12 590.08) rotate(-33)" x="-4.78" y="1.75" font-size="8.00">O<tspan font-size="5.12" dy="2.1">3</tspan></text>
<text transform="translate(412.48 592.56) rotate(-33)" x="-10.95" y="2.80" font-size="8.00">PM10</text>
<text transform="translate(435.85 593.26) rotate(-33)" x="-12.22" y="2.80" font-size="8.00">PM2.5</text>
<text transform="translate(459.22 591.46) rotate(-33)" x="-7.32" y="1.75" font-size="8.00">SO<tspan font-size="5.12" dy="2.1">2</tspan></text>
<text transform="translate(482.58 591.20) rotate(-33)" x="-8.44" y="2.80" font-size="8.00">Pres</text>
<text transform="translate(505.95 592.40) rotate(-33)" x="-10.66" y="2.80" font-size="8.00">Temp</text>
<text transform="translate(529.32 592.34) rotate(-33)" x="-10.55" y="2.80" font-size="8.00">Humi</text>
<g shape-rendering="crispEdges" stroke="none">
<rect x="50.50" y="609.45" width="23.67" height="23.70" fill="#bfd8ed"/>
<rect x="73.87" y="609.45" width="23.67" height="23.70" fill="#e3eef9"/>
<rect x="97.23" y="609.45" width="23.67" height="23.70" fill="#ebf3fb"/>
<rect x="120.60" y="609.45" width="23.67" height="23.70" fill="#2676b8"/>
<rect x="143.97" y="609.45" width="23.67" height="23.70" fill="#b7d4ea"/>
<rect x="167.33" y="609.45" width="23.67" height="23.70" fill="#f3f8fe"/>
<rect x="190.70" y="609.45" width="23.67" height="23.70" fill="#083c7d"/>
<rect x="214.07" y="609.45" width="23.67" height="23.70" fill="#f3f8fe"/>
<rect x="237.43" y="609.45" width="23.67" height="23.70" fill="#d0e1f2"/>
<rect x="50.50" y="632.85" width="23.67" height="23.70" fill="#bfd8ed"/>
<rect x="73.87" y="632.85" width="23.67" height="23.70" fill="#e3eef9"/>
<rect x="97.23" y="632.85" width="23.67" height="23.70" fill="#e7f1fa"/>
<rect x="120.60" y="632.85" width="23.67" height="23.70" fill="#3e8ec4"/>
<rect x="143.97" y="632.85" width="23.67" height="23.70" fill="#ccdff1"/>
<rect x="167.33" y="632.85" width="23.67" height="23.70" fill="#f3f8fe"/>
<rect x="190.70" y="632.85" width="23.67" height="23.70" fill="#083370"/>
<rect x="214.07" y="632.85" width="23.67" height="23.70" fill="#f3f8fe"/>
<rect x="237.43" y="632.85" width="23.67" height="23.70" fill="#d0e1f2"/>
<rect x="50.50" y="656.25" width="23.67" height="23.70" fill="#bfd8ed"/>
<rect x="73.87" y="656.25" width="23.67" height="23.70" fill="#e3eef9"/>
<rect x="97.23" y="656.25" width="23.67" height="23.70" fill="#e3eef9"/>
<rect x="120.60" y="656.25" width="23.67" height="23.70" fill="#5da5d1"/>
<rect x="143.97" y="656.25" width="23.67" height="23.70" fill="#add0e6"/>
<rect x="167.33" y="656.25" width="23.67" height="23.70" fill="#f3f8fe"/>
<rect x="190.70" y="656.25" width="23.67" height="23.70" fill="#083674"/>
<rect x="214.07" y="656.25" width="23.67" height="23.70" fill="#f3f8fe"/>
<rect x="237.43" y="656.25" width="23.67" height="23.70" fill="#d0e1f2"/>
<rect x="50.50" y="679.65" width="23.67" height="23.70" fill="#bfd8ed"/>
<rect x="73.87" y="679.65" width="23.67" height="23.70" fill="#e3eef9"/>
<rect x="97.23" y="679.65" width="23.67" height="23.70" fill="#dfecf7"/>
<rect x="120.60" y="679.65" width="23.67" height="23.70" fill="#5da5d1"/>
<rect x="143.97" y="679.65" width="23.67" height="23.70" fill="#d0e1f2"/>
<rect x="167.33" y="679.65" width="23.67" height="23.70" fill="#f3f8fe"/>
<rect x="190.70" y="679.65" width="23.67" height="23.70" fill="#083674"/>
<rect x="214.07" y="679.65" width="23.67" height="23.70" fill="#f3f8fe"/>
<rect x="237.43" y="679.65" width="23.67" height="23.70" fill="#d0e1f2"/>
<rect x="50.50" y="703.05" width="23.67" height="23.70" fill="#bfd8ed"/>
<rect x="73.87" y="703.05" width="23.67" height="23.70" fill="#ddeaf7"/>
<rect x="97.23" y="703.05" width="23.67" height="23.70" fill="#eaf2fb"/>
<rect x="120.60" y="703.05" width="23.67" height="23.70" fill="#4695c8"/>
<rect x="143.97" y="703.05" width="23.67" height="23.70" fill="#8cc0dd"/>
<rect x="167.33" y="703.05" width="23.67" height="23.70" fill="#f3f8fe"/>
<rect x="190.70" y="703.05" width="23.67" height="23.70" fill="#083674"/>
<rect x="214.07" y="703.05" width="23.67" height="23.70" fill="#f3f8fe"/>
<rect x="237.43" y="703.05" width="23.67" height="23.70" fill="#d0e1f2"/>
<rect x="50.50" y="726.45" width="23.67" height="23.70" fill="#bfd8ed"/>
<rect x="73.87" y="726.45" width="23.67" height="23.70" fill="#dfecf7"/>
<rect x="97.23" y="726.45" width="23.67" height="23.70" fill="#eef5fc"/>
<rect x="120.60" y="726.45" width="23.67" height="23.70" fill="#1764ab"/>
<rect x="143.97" y="726.45" width="23.67" height="23.70" fill="#8cc0dd"/>
<rect x="167.33" y="726.45" width="23.67" height="23.70" fill="#f3f8fe"/>
<rect x="190.70" y="726.45" width="23.67" height="23.70" fill="#08326e"/>
<rect x="214.07" y="726.45" width="23.67" height="23.70" fill="#f3f8fe"/>
<rect x="237.43" y="726.45" width="23.67" height="23.70" fill="#d0e1f2"/>
<rect x="50.50" y="749.85" width="23.67" height="23.70" fill="#bfd8ed"/>
<rect x="73.87" y="749.85" width="23.67" height="23.70" fill="#eff6fc"/>
<rect x="97.23" y="749.85" width="23.67" height="23.70" fill="#d6e5f4"/>
<rect x="120.60" y="749.85" width="23.67" height="23.70" fill="#4a98c9"/>
<rect x="143.97" y="749.85" width="23.67" height="23.70" fill="#8cc0dd"/>
<rect x="167.33" y="749.85" width="23.67" height="23.70" fill="#f3f8fe"/>
<rect x="190.70" y="749.85" width="23.67" height="23.70" fill="#083e81"/>
<rect x="214.07" y="749.85" width="23.67" height="23.70" fill="#f3f8fe"/>
<rect x="237.43" y="749.85" width="23.67" height="23.70" fill="#d0e1f2"/>
</g>
<rect x="50.50" y="609.45" width="210.30" height="163.80" fill="none" stroke="#363b41" stroke-width="0.85"/>
<path d="M50.50 621.15h-2.9M50.50 644.55h-2.9M50.50 667.95h-2.9M50.50 691.35h-2.9M50.50 714.75h-2.9M50.50 738.15h-2.9M50.50 761.55h-2.9M62.18 773.25v2.9M85.55 773.25v2.9M108.92 773.25v2.9M132.28 773.25v2.9M155.65 773.25v2.9M179.02 773.25v2.9M202.38 773.25v2.9M225.75 773.25v2.9M249.12 773.25v2.9" stroke="#24282c" stroke-width="0.9" fill="none"/>
<text x="44.40" y="624.75" font-size="8.45" text-anchor="end">Station 1</text>
<text x="44.40" y="648.15" font-size="8.45" text-anchor="end">Station 2</text>
<text x="44.40" y="671.55" font-size="8.45" text-anchor="end">Station 3</text>
<text x="44.40" y="694.95" font-size="8.45" text-anchor="end">Station 4</text>
<text x="44.40" y="718.35" font-size="8.45" text-anchor="end">Station 5</text>
<text x="44.40" y="741.75" font-size="8.45" text-anchor="end">Station 6</text>
<text x="44.40" y="765.15" font-size="8.45" text-anchor="end">Station 7</text>
<text transform="translate(61.58 786.23) rotate(-33)" x="-5.94" y="2.80" font-size="8.00">CO</text>
<text transform="translate(84.95 788.11) rotate(-33)" x="-7.77" y="1.75" font-size="8.00">NO<tspan font-size="5.12" dy="2.1">2</tspan></text>
<text transform="translate(108.32 786.48) rotate(-33)" x="-4.78" y="1.75" font-size="8.00">O<tspan font-size="5.12" dy="2.1">3</tspan></text>
<text transform="translate(131.68 788.96) rotate(-33)" x="-10.95" y="2.80" font-size="8.00">PM10</text>
<text transform="translate(155.05 789.66) rotate(-33)" x="-12.22" y="2.80" font-size="8.00">PM2.5</text>
<text transform="translate(178.42 787.86) rotate(-33)" x="-7.32" y="1.75" font-size="8.00">SO<tspan font-size="5.12" dy="2.1">2</tspan></text>
<text transform="translate(201.78 787.60) rotate(-33)" x="-8.44" y="2.80" font-size="8.00">Pres</text>
<text transform="translate(225.15 788.80) rotate(-33)" x="-10.66" y="2.80" font-size="8.00">Temp</text>
<text transform="translate(248.52 788.74) rotate(-33)" x="-10.55" y="2.80" font-size="8.00">Humi</text>
<g shape-rendering="crispEdges" stroke="none">
<rect x="331.30" y="609.45" width="23.67" height="23.70" fill="#5da5d1"/>
<rect x="354.67" y="609.45" width="23.67" height="23.70" fill="#dfecf7"/>
<rect x="378.03" y="609.45" width="23.67" height="23.70" fill="#ebf3fb"/>
<rect x="401.40" y="609.45" width="23.67" height="23.70" fill="#2070b4"/>
<rect x="424.77" y="609.45" width="23.67" height="23.70" fill="#b7d4ea"/>
<rect x="448.13" y="609.45" width="23.67" height="23.70" fill="#f3f8fe"/>
<rect x="471.50" y="609.45" width="23.67" height="23.70" fill="#08306b"/>
<rect x="494.87" y="609.45" width="23.67" height="23.70" fill="#f3f8fe"/>
<rect x="518.23" y="609.45" width="23.67" height="23.70" fill="#d0e1f2"/>
<rect x="331.30" y="632.85" width="23.67" height="23.70" fill="#a9cfe5"/>
<rect x="354.67" y="632.85" width="23.67" height="23.70" fill="#e3eef9"/>
<rect x="378.03" y="632.85" width="23.67" height="23.70" fill="#e7f1fa"/>
<rect x="401.40" y="632.85" width="23.67" height="23.70" fill="#3b8bc2"/>
<rect x="424.77" y="632.85" width="23.67" height="23.70" fill="#c8dcf0"/>
<rect x="448.13" y="632.85" width="23.67" height="23.70" fill="#f3f8fe"/>
<rect x="471.50" y="632.85" width="23.67" height="23.70" fill="#08306b"/>
<rect x="494.87" y="632.85" width="23.67" height="23.70" fill="#f3f8fe"/>
<rect x="518.23" y="632.85" width="23.67" height="23.70" fill="#d0e1f2"/>
<rect x="331.30" y="656.25" width="23.67" height="23.70" fill="#add0e6"/>
<rect x="354.67" y="656.25" width="23.67" height="23.70" fill="#e3eef9"/>
<rect x="378.03" y="656.25" width="23.67" height="23.70" fill="#e3eef9"/>
<rect x="401.40" y="656.25" width="23.67" height="23.70" fill="#5da5d1"/>
<rect x="424.77" y="656.25" width="23.67" height="23.70" fill="#a6cee4"/>
<rect x="448.13" y="656.25" width="23.67" height="23.70" fill="#f3f8fe"/>
<rect x="471.50" y="656.25" width="23.67" height="23.70" fill="#08306b"/>
<rect x="494.87" y="656.25" width="23.67" height="23.70" fill="#f3f8fe"/>
<rect x="518.23" y="656.25" width="23.67" height="23.70" fill="#d0e1f2"/>
<rect x="331.30" y="679.65" width="23.67" height="23.70" fill="#7fb9da"/>
<rect x="354.67" y="679.65" width="23.67" height="23.70" fill="#e3eef9"/>
<rect x="378.03" y="679.65" width="23.67" height="23.70" fill="#ddeaf7"/>
<rect x="401.40" y="679.65" width="23.67" height="23.70" fill="#5da5d1"/>
<rect x="424.77" y="679.65" width="23.67" height="23.70" fill="#d0e1f2"/>
<rect x="448.13" y="679.65" width="23.67" height="23.70" fill="#f3f8fe"/>
<rect x="471.50" y="679.65" width="23.67" height="23.70" fill="#08306b"/>
<rect x="494.87" y="679.65" width="23.67" height="23.70" fill="#f3f8fe"/>
<rect x="518.23" y="679.65" width="23.67" height="23.70" fill="#d0e1f2"/>
<rect x="331.30" y="703.05" width="23.67" height="23.70" fill="#74b3d8"/>
<rect x="354.67" y="703.05" width="23.67" height="23.70" fill="#d8e7f5"/>
<rect x="378.03" y="703.05" width="23.67" height="23.70" fill="#eaf2fb"/>
<rect x="401.40" y="703.05" width="23.67" height="23.70" fill="#4090c5"/>
<rect x="424.77" y="703.05" width="23.67" height="23.70" fill="#7fb9da"/>
<rect x="448.13" y="703.05" width="23.67" height="23.70" fill="#f3f8fe"/>
<rect x="471.50" y="703.05" width="23.67" height="23.70" fill="#08306b"/>
<rect x="494.87" y="703.05" width="23.67" height="23.70" fill="#f3f8fe"/>
<rect x="518.23" y="703.05" width="23.67" height="23.70" fill="#d0e1f2"/>
<rect x="331.30" y="726.45" width="23.67" height="23.70" fill="#91c3de"/>
<rect x="354.67" y="726.45" width="23.67" height="23.70" fill="#dfecf7"/>
<rect x="378.03" y="726.45" width="23.67" height="23.70" fill="#ebf3fb"/>
<rect x="401.40" y="726.45" width="23.67" height="23.70" fill="#135fa7"/>
<rect x="424.77" y="726.45" width="23.67" height="23.70" fill="#94c4df"/>
<rect x="448.13" y="726.45" width="23.67" height="23.70" fill="#f3f8fe"/>
<rect x="471.50" y="726.45" width="23.67" height="23.70" fill="#08306b"/>
<rect x="494.87" y="726.45" width="23.67" height="23.70" fill="#f3f8fe"/>
<rect x="518.23" y="726.45" width="23.67" height="23.70" fill="#d0e1f2"/>
<rect x="331.30" y="749.85" width="23.67" height="23.70" fill="#549fcd"/>
<rect x="354.67" y="749.85" width="23.67" height="23.70" fill="#ebf3fb"/>
<rect x="378.03" y="749.85" width="23.67" height="23.70" fill="#d8e7f5"/>
<rect x="401.40" y="749.85" width="23.67" height="23.70" fill="#549fcd"/>
<rect x="424.77" y="749.85" width="23.67" height="23.70" fill="#87bddc"/>
<rect x="448.13" y="749.85" width="23.67" height="23.70" fill="#f3f8fe"/>
<rect x="471.50" y="749.85" width="23.67" height="23.70" fill="#08306b"/>
<rect x="494.87" y="749.85" width="23.67" height="23.70" fill="#f3f8fe"/>
<rect x="518.23" y="749.85" width="23.67" height="23.70" fill="#d0e1f2"/>
</g>
<rect x="331.30" y="609.45" width="210.30" height="163.80" fill="none" stroke="#363b41" stroke-width="0.85"/>
<path d="M331.30 621.15h-2.9M331.30 644.55h-2.9M331.30 667.95h-2.9M331.30 691.35h-2.9M331.30 714.75h-2.9M331.30 738.15h-2.9M331.30 761.55h-2.9M342.98 773.25v2.9M366.35 773.25v2.9M389.72 773.25v2.9M413.08 773.25v2.9M436.45 773.25v2.9M459.82 773.25v2.9M483.18 773.25v2.9M506.55 773.25v2.9M529.92 773.25v2.9" stroke="#24282c" stroke-width="0.9" fill="none"/>
<text x="325.20" y="624.75" font-size="8.45" text-anchor="end">Station 1</text>
<text x="325.20" y="648.15" font-size="8.45" text-anchor="end">Station 2</text>
<text x="325.20" y="671.55" font-size="8.45" text-anchor="end">Station 3</text>
<text x="325.20" y="694.95" font-size="8.45" text-anchor="end">Station 4</text>
<text x="325.20" y="718.35" font-size="8.45" text-anchor="end">Station 5</text>
<text x="325.20" y="741.75" font-size="8.45" text-anchor="end">Station 6</text>
<text x="325.20" y="765.15" font-size="8.45" text-anchor="end">Station 7</text>
<text transform="translate(342.38 786.23) rotate(-33)" x="-5.94" y="2.80" font-size="8.00">CO</text>
<text transform="translate(365.75 788.11) rotate(-33)" x="-7.77" y="1.75" font-size="8.00">NO<tspan font-size="5.12" dy="2.1">2</tspan></text>
<text transform="translate(389.12 786.48) rotate(-33)" x="-4.78" y="1.75" font-size="8.00">O<tspan font-size="5.12" dy="2.1">3</tspan></text>
<text transform="translate(412.48 788.96) rotate(-33)" x="-10.95" y="2.80" font-size="8.00">PM10</text>
<text transform="translate(435.85 789.66) rotate(-33)" x="-12.22" y="2.80" font-size="8.00">PM2.5</text>
<text transform="translate(459.22 787.86) rotate(-33)" x="-7.32" y="1.75" font-size="8.00">SO<tspan font-size="5.12" dy="2.1">2</tspan></text>
<text transform="translate(482.58 787.60) rotate(-33)" x="-8.44" y="2.80" font-size="8.00">Pres</text>
<text transform="translate(505.95 788.80) rotate(-33)" x="-10.66" y="2.80" font-size="8.00">Temp</text>
<text transform="translate(529.32 788.74) rotate(-33)" x="-10.55" y="2.80" font-size="8.00">Humi</text>
<defs><linearGradient id="cb" x1="0" x2="1" y1="0" y2="0">
<stop offset="0.0000" stop-color="#f7fbff"/>
<stop offset="0.0312" stop-color="#f1f7fd"/>
<stop offset="0.0625" stop-color="#eaf2fb"/>
<stop offset="0.0938" stop-color="#e3eef8"/>
<stop offset="0.1250" stop-color="#dce9f6"/>
<stop offset="0.1562" stop-color="#d5e5f4"/>
<stop offset="0.1875" stop-color="#cee0f2"/>
<stop offset="0.2188" stop-color="#c7dcef"/>
<stop offset="0.2500" stop-color="#bdd7ec"/>
<stop offset="0.2812" stop-color="#b0d2e7"/>
<stop offset="0.3125" stop-color="#a5cde3"/>
<stop offset="0.3438" stop-color="#97c6df"/>
<stop offset="0.3750" stop-color="#89bedc"/>
<stop offset="0.4062" stop-color="#7ab6d9"/>
<stop offset="0.4375" stop-color="#6aaed6"/>
<stop offset="0.4688" stop-color="#5fa6d1"/>
<stop offset="0.5000" stop-color="#529dcc"/>
<stop offset="0.5312" stop-color="#4a98c9"/>
<stop offset="0.5625" stop-color="#4191c6"/>
<stop offset="0.5938" stop-color="#3a8ac2"/>
<stop offset="0.6250" stop-color="#3383be"/>
<stop offset="0.6562" stop-color="#2d7dbb"/>
<stop offset="0.6875" stop-color="#2575b7"/>
<stop offset="0.7188" stop-color="#1f6eb3"/>
<stop offset="0.7500" stop-color="#1a68ae"/>
<stop offset="0.7812" stop-color="#1561a9"/>
<stop offset="0.8125" stop-color="#105ba4"/>
<stop offset="0.8438" stop-color="#0b559f"/>
<stop offset="0.8750" stop-color="#084f99"/>
<stop offset="0.9062" stop-color="#084990"/>
<stop offset="0.9375" stop-color="#084488"/>
<stop offset="0.9688" stop-color="#083e81"/>
<stop offset="1.0000" stop-color="#083877"/>
</linearGradient></defs>
<rect x="49.60" y="803.20" width="486.40" height="14.80" fill="url(#cb)" stroke="#363b41" stroke-width="0.85"/>
<path d="M49.60 818.00v2.9M292.80 818.00v2.9M536.00 818.00v2.9" stroke="#24282c" stroke-width="0.9" fill="none"/>
<text x="49.60" y="830.0" font-size="8.45" text-anchor="middle">Low</text>
<text x="292.80" y="830.0" font-size="8.45" text-anchor="middle">Medium</text>
<text x="536.00" y="830.0" font-size="8.45" text-anchor="middle">High</text>
</svg>
</body></html>
